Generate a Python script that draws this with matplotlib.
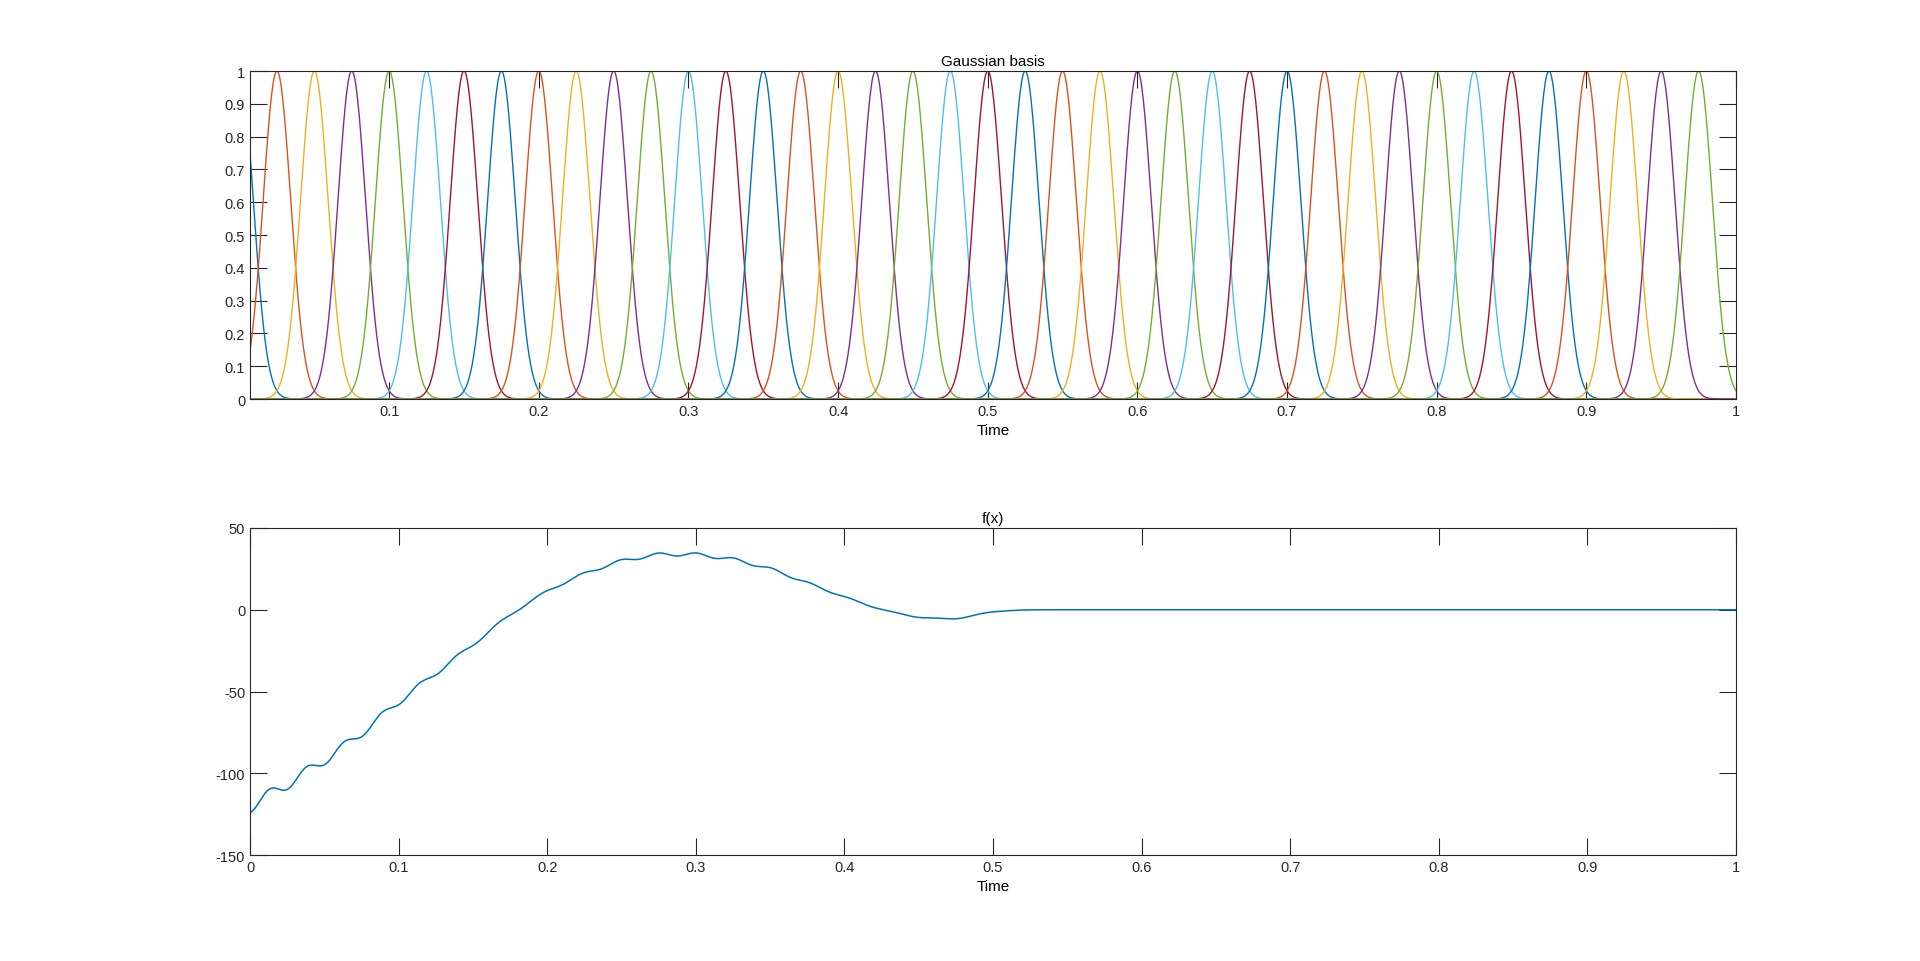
import numpy as np
import matplotlib
matplotlib.use("Agg")
import matplotlib.pyplot as plt

plt.rcParams['font.family'] = ['Liberation Sans', 'DejaVu Sans']
plt.rcParams['axes.unicode_minus'] = False

centers = [k * 0.025 for k in range(40)]
sigma = 0.0092
# f(x) values at centres -0.025, 0, 0.025, ...
f_centers = [-0.025 + k * 0.025 for k in range(41)]
f_at_centers = [-140, -124, -110, -95, -78, -58, -40, -22, -3, 12, 23, 31, 35, 35, 32, 26, 17,
                8, 0, -5, -6, -1, 0, 0, 0, 0, 0, 0, 0, 0, 0, 0, 0, 0, 0, 0, 0, 0, 0, 0, 0]
sigma_f = 0.0115
colors = ['#0072BD', '#D95319', '#EDB120', '#7E2F8E', '#77AC30', '#4DBEEE', '#A2142F']

t = np.linspace(0, 1, 2001)
basis = [np.exp(-(t - c) ** 2 / (2 * sigma ** 2)) for c in centers]

fig = plt.figure(figsize=(19.2, 9.62), dpi=100)
ax1 = fig.add_axes([250/1920, 1-400/962, 1486/1920, 328/962])
ax2 = fig.add_axes([250/1920, 1-856/962, 1486/1920, 327/962])

for i, b in enumerate(basis):
    ax1.plot(t, b, color=colors[i % 7], lw=1)
ax1.set_xlim(0.007, 1)
ax1.set_ylim(0, 1)
ax1.set_xticks(np.arange(0.1, 1.01, 0.1))
ax1.set_xticklabels(['0.1','0.2','0.3','0.4','0.5','0.6','0.7','0.8','0.9','1'])
ax1.set_yticks(np.arange(0, 1.01, 0.1))
ax1.set_yticklabels(['0','0.1','0.2','0.3','0.4','0.5','0.6','0.7','0.8','0.9','1'])
ax1.set_title('Gaussian basis', fontsize=11, pad=4)
ax1.set_xlabel('Time', fontsize=11)

bumps = [np.exp(-(t - c) ** 2 / (2 * sigma_f ** 2)) for c in f_centers]
norm = sum(np.exp(-(k * 0.025) ** 2 / (2 * sigma_f ** 2)) for k in range(-3, 4))
f = np.zeros_like(t)
for v, b in zip(f_at_centers, bumps):
    f += v / norm * b
ax2.plot(t, f, color='#0072BD', lw=1.1)
ax2.set_xlim(0, 1)
ax2.set_ylim(-150, 50)
ax2.set_xticks(np.arange(0, 1.01, 0.1))
ax2.set_xticklabels(['0','0.1','0.2','0.3','0.4','0.5','0.6','0.7','0.8','0.9','1'])
ax2.set_yticks([-150, -100, -50, 0, 50])
ax2.set_title('f(x)', fontsize=11, pad=4)
ax2.set_xlabel('Time', fontsize=11)

for ax in (ax1, ax2):
    ax.tick_params(direction='in', top=True, right=True, length=12, labelsize=10.5, colors='#262626')
    for s in ax.spines.values():
        s.set_color('#262626')
        s.set_linewidth(0.8)

fig.savefig('out.png', dpi=100)
